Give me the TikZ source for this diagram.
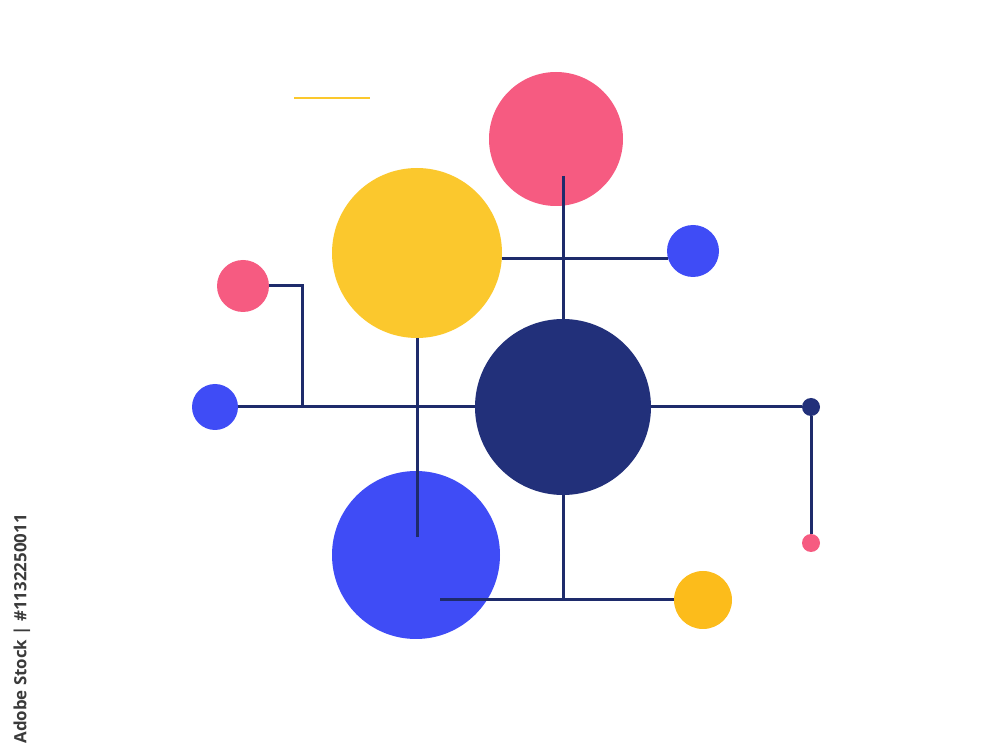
\documentclass[tikz,border=0pt]{standalone}
\usepackage{fontspec}
\setsansfont{Open Sans}

\definecolor{pinkc}{HTML}{F65B81}
\definecolor{yellowc}{HTML}{FBC82D}
\definecolor{ambercol}{HTML}{FCBC1B}
\definecolor{navyc}{HTML}{22307A}
\definecolor{bluec}{HTML}{3F4CF6}
\definecolor{wirec}{HTML}{1E2B6B}
\definecolor{stampc}{HTML}{3A3A3A}

\begin{document}
\begin{tikzpicture}[x=0.1mm,y=-0.1mm]

      \useasboundingbox (0,0) rectangle (1000,753);

      \begin{scope}[every node/.style={circle,inner sep=0pt,outer sep=0pt}]
        \node[fill=pinkc,minimum size=13.4mm]   (pinkbig)  at (556,139) {};
        \node[fill=yellowc,minimum size=17mm]   (yellow)   at (417,253) {};
        \node[fill=navyc,minimum size=17.6mm]   (navy)     at (563,407) {};
        \node[fill=bluec,minimum size=16.8mm]   (bluebig)  at (416,555) {};
        \node[fill=bluec,minimum size=5.2mm]    (blueR)    at (693,251) {};
        \node[fill=pinkc,minimum size=5.2mm]    (pinkL)    at (243,286) {};
        \node[fill=bluec,minimum size=4.6mm]    (blueL)    at (215,407) {};
        \node[fill=ambercol,minimum size=5.8mm] (amber)    at (703,600) {};
        \node[fill=navyc,minimum size=1.8mm]    (dotN)     at (811,407) {};
        \node[fill=pinkc,minimum size=1.8mm]    (dotP)     at (811,543) {};
      \end{scope}

      \coordinate (pinktail)  at (563,176);
      \coordinate (tee)       at (302,407);
      \coordinate (bluetail)  at (417,537);
      \coordinate (foot)      at (563,600);
      \coordinate (bluetail2) at (440,600);
      \coordinate (barL)      at (294,98);
      \coordinate (barR)      at (370,98);

      \begin{scope}[every edge/.style={draw=wirec,line width=0.3mm}]
        \path (pinktail)   edge (pinktail |- navy.north);
        \path (yellow.-4)  edge (yellow.-4 -| blueR.198);
        \path (blueL)      edge (navy);
        \path (yellow)     edge (bluetail);
        \path (navy)       edge (dotN);
        \path (dotN)       edge (dotP);
        \path (navy)       edge (foot);
        \path (bluetail2)  edge (amber);
      \end{scope}

      \draw[wirec,line width=0.3mm] (pinkL.east) -| (tee);

      \draw[yellowc,line width=0.25mm] (barL) -- (barR);

      \node[rotate=90,text=stampc,font=\sffamily\bfseries\fontsize{4.8}{5}\selectfont]
        (stockid) at (22,629) {Adobe Stock | \#1132250011};

    \end{tikzpicture}
\end{document}
